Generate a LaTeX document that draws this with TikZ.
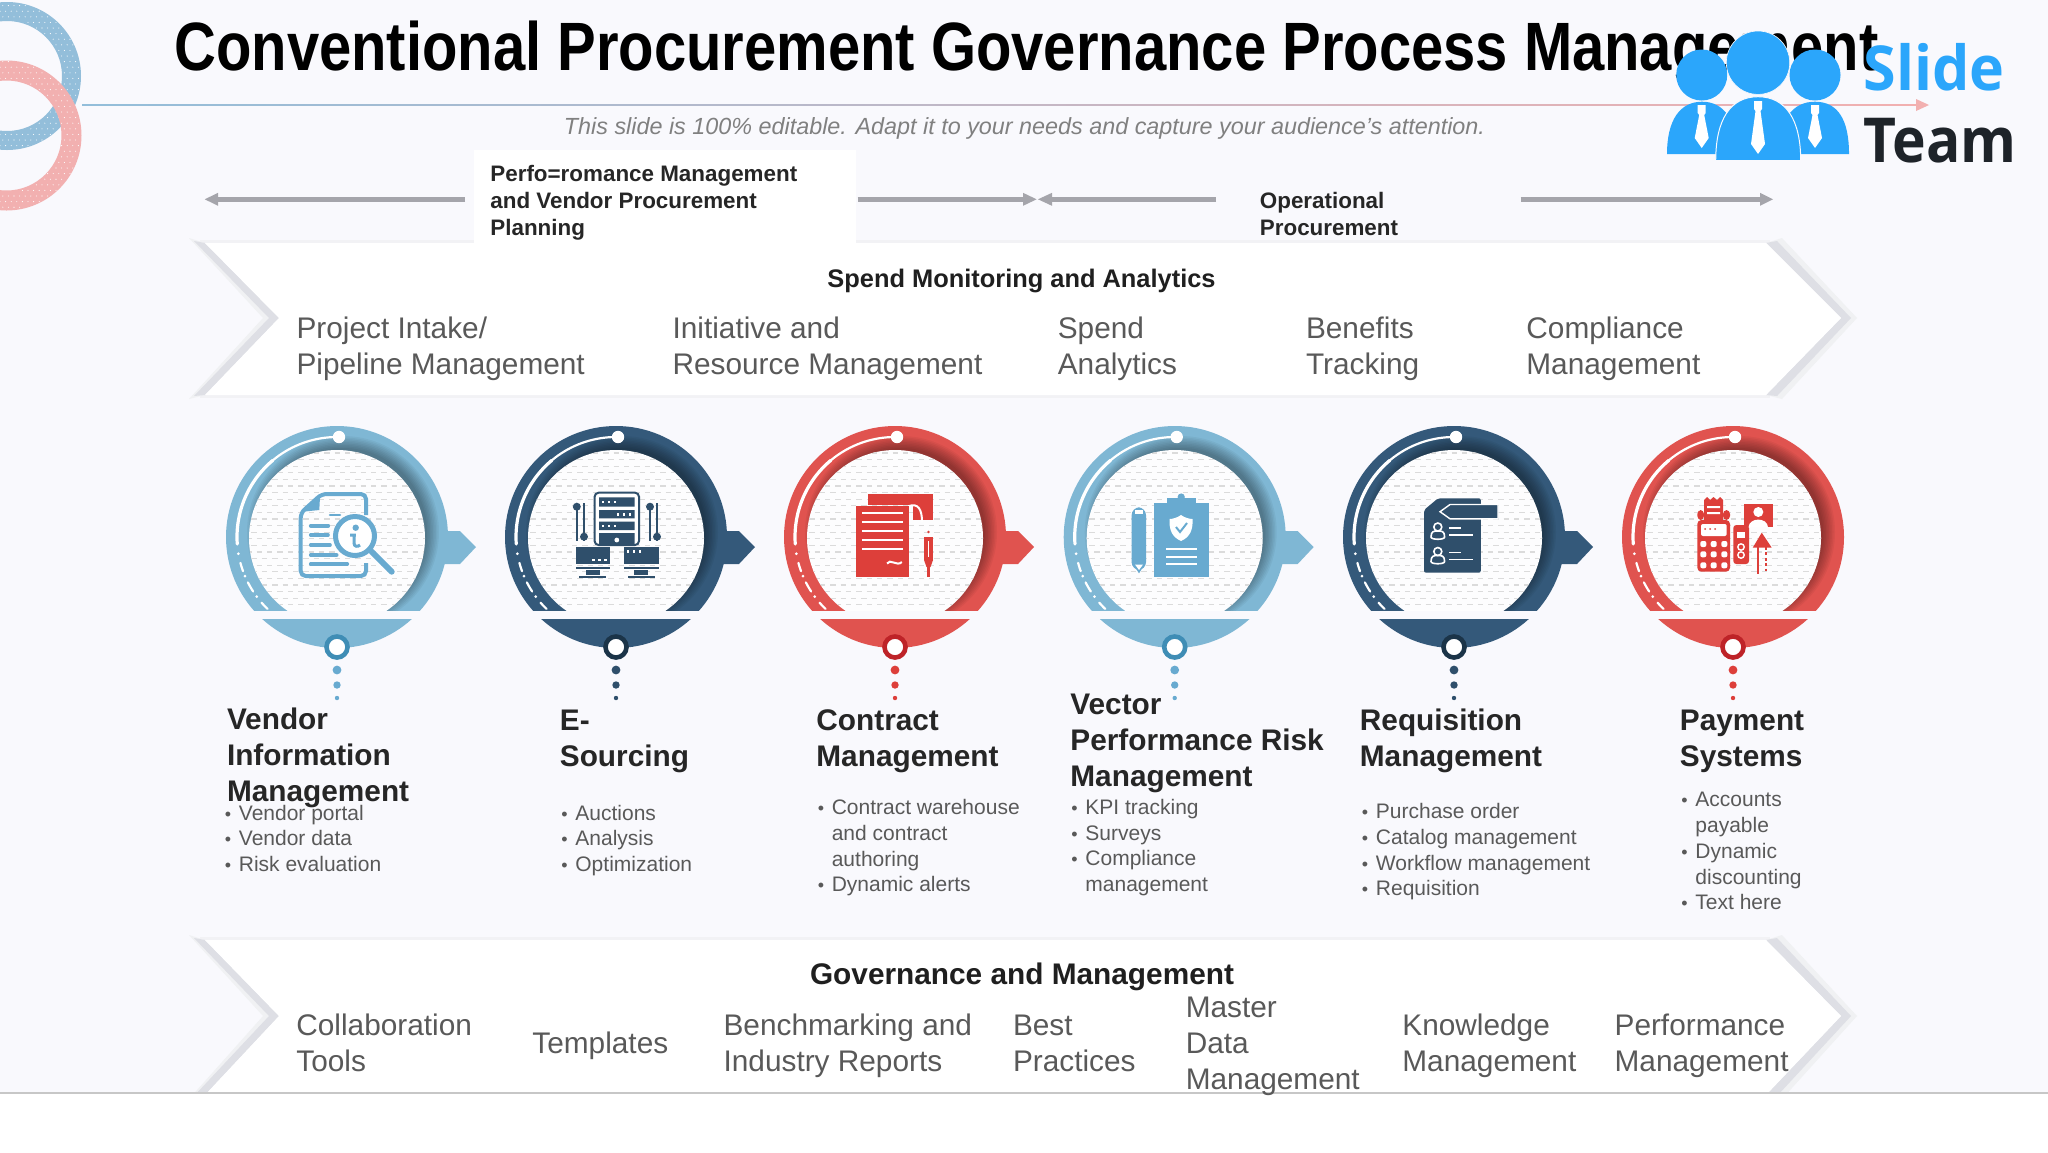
\documentclass[tikz,border=0pt]{standalone}
\usepackage{fontspec}
\usepackage{graphicx}
\setmainfont{Liberation Sans}
\newfontfamily\logofont{Open Sans}[BoldFont={* Bold}]
\definecolor{pagebg}{HTML}{F9F9FD}
\definecolor{rlight}{HTML}{7FB7D4}
\definecolor{rdark}{HTML}{34597A}
\definecolor{rred}{HTML}{E0534F}
\definecolor{elight}{HTML}{3F8DB5}
\definecolor{edark}{HTML}{1B3448}
\definecolor{ered}{HTML}{BE2328}
\definecolor{dlight}{HTML}{68AAD0}
\definecolor{ddark}{HTML}{2F4F6B}
\definecolor{dred}{HTML}{DD3F3A}
\definecolor{logoblue}{HTML}{2BA6FB}
\definecolor{logodark}{HTML}{1E2329}
\definecolor{greyarrow}{HTML}{A5A5AB}
\definecolor{chevshadow}{HTML}{DEDFE5}
\definecolor{headtxt}{HTML}{262626}
\definecolor{bodytxt}{HTML}{595959}
\definecolor{ringblue}{HTML}{93BEDA}
\definecolor{ringpink}{HTML}{F2B0B0}
\tikzset{
 rowtxt/.style={inner sep=0,anchor=west,align=left,text=bodytxt,yshift=-1.25pt,font=\fontsize{14.9}{18}\selectfont},
 headtext/.style={inner sep=0,anchor=west,align=left,text=headtxt,yshift=-1.1pt,font=\bfseries\fontsize{14.9}{18}\selectfont},
 toptxt/.style={inner sep=0,anchor=west,align=left,text=black!85,yshift=-1.1pt,font=\bfseries\fontsize{11.2}{13.5}\selectfont},
 bullettxt/.style={inner sep=0,anchor=west,align=left,text=bodytxt,yshift=-.85pt,font=\fontsize{10.5}{12.85}\selectfont},
 greyline/.style={draw=greyarrow,line width=2.2pt},
 greytip/.style={fill=greyarrow,draw=none}
}
\newcommand\ringarc[4]{\draw[white,line width=#4pt,line cap=round] plot[domain=#2:#3,samples=20,smooth] ({#1+100*cos(\x)},{537-100*sin(\x)});}
\newcommand\ringdot[2]{\fill[white] ({#1+100*cos(#2)},{537-100*sin(#2)}) circle[radius=1.5];}
\newcommand\ringtip[2]{\fill[#2] (#1+95,531) -- (#1+123,531) -- (#1+139,547) -- (#1+123,564) -- (#1+95,564) -- cycle;}
\newcommand\bitem{\strut\makebox[7pt][l]{\small•}}
\newcommand\bcont{\strut\makebox[7pt][l]{}}
\newcommand\cornerdots[4]{%
 \foreach \i in {0,...,16} \foreach \j in {0,...,40}
  {\pgfmathsetmacro{\px}{\i*5.6+mod(\j,2)*2.8}
   \pgfmathsetmacro{\py}{\j*5.6}
   \pgfmathsetmacro{\dd}{veclen(\px-#1,\py-#2)}
   \pgfmathparse{(\dd<#3 && \dd>#4) ? 1 : 0}
   \ifdim\pgfmathresult pt>0.5pt \fill[white] (\px,\py) circle[radius=.55];\fi}}
\newcommand\chevbands[3]{% top y, tip y, bottom y
 \fill[chevshadow!45] (189,#1-5) -- (263,#2) -- (189,#3+4) -- (205,#3) -- (279,#2) -- (205,#1) -- cycle;
 \fill[chevshadow] (194,#1-2) -- (269,#2) -- (194,#3+1) -- (205,#3) -- (279,#2) -- (205,#1) -- cycle;
 \fill[chevshadow!45] (1782,#1-5) -- (1857,#2) -- (1782,#3+4) -- (1766,#3) -- (1841,#2) -- (1766,#1) -- cycle;
 \fill[chevshadow] (1777,#1-2) -- (1851,#2) -- (1777,#3+1) -- (1766,#3) -- (1841,#2) -- (1766,#1) -- cycle;
}
\newcommand\ringunit[4]{%
 \begin{scope}
  \clip (#1-130,400) rectangle (#1+130,610);
  \fill[#2] (#1,537) circle[radius=111];
  \foreach \rr in {84,85.5,...,96} {\fill[black,opacity=.042] (#1+6,532) circle[radius=\rr];}
  \ringarc{#1}{88}{130}{1.1}
  \ringarc{#1}{130}{184}{1.6}
  \ringdot{#1}{189.6}
  \ringarc{#1}{195}{200}{1.1}
  \ringdot{#1}{203}
  \ringarc{#1}{207}{213}{1.1}
  \ringdot{#1}{216.6}
  \ringarc{#1}{221}{226}{1.1}
  \fill[white] (#1+2,437) circle[radius=6.2];
  \begin{scope}
   \clip (#1,538) circle[radius=88];
   \fill[white!60!pagebg] (#1-90,445) rectangle (#1+90,630);
   \foreach \k in {0,...,24}
     {\pgfmathsetmacro{\yy}{453+\k*6.6}
      \pgfmathsetmacro{\xs}{#1-96-mod(\k,2)*5.2}
      \draw[black!14,line width=.55pt,dash pattern=on 2.7pt off 2.5pt] (\xs,\yy) -- (#1+96,\yy);}
  \end{scope}
 \end{scope}
 \begin{scope}
  \clip (#1-130,619) rectangle (#1+130,700);
  \fill[#2] (#1,537) circle[radius=111];
 \end{scope}
 \draw[#3,fill=white,line width=2.3pt] (#1,647) circle[radius=10.5];
 \fill[#4] (#1,670) circle[radius=4.4] (#1,685) circle[radius=3.7] (#1,698) circle[radius=2.2];
}
\begin{document}
\begin{tikzpicture}[x=0.5pt,y=-0.5pt]
\useasboundingbox (0,0) rectangle (2048,1152);
\fill[white] (0,0) rectangle (2048,1152);
\fill[pagebg] (0,0) rectangle (2048,1093);

% corner rings
\fill[ringblue,even odd rule] (7,76) circle[radius=74] (7,76) circle[radius=55];
\cornerdots{7}{76}{73}{56}
\fill[ringpink,even odd rule] (6.5,135.5) circle[radius=75] (6.5,135.5) circle[radius=55];
\cornerdots{6.5}{135.5}{74}{56}

% header rule
\shade[left color=ringblue,right color=ringpink] (82,104.2) rectangle (1918,105.8);
\fill[ringpink] (1916,99) -- (1929,105) -- (1916,111) -- cycle;

% title
\node[inner sep=0,anchor=base west,text=black] (title) at (174,70.7)
 {\resizebox{852pt}{\height}{\fontsize{34.2}{40}\selectfont\bfseries Conventional Procurement Governance Process Management}};
\node[inner sep=0,text=black!50,font=\itshape\fontsize{11.68}{14}\selectfont] (subtitle) at (1024.5,128.5)
 {This slide is 100\% editable. Adapt it to your needs and capture your audience's attention.};

% top arrows
\draw[greyline] (465,199.3) -- (212,199.3);
\fill[greytip] (204.8,199.3) -- (218,192.8) -- (218,205.8) -- cycle;
\draw[greyline] (857.5,199.3) -- (1028,199.3);
\fill[greytip] (1036.6,199.3) -- (1023,192.8) -- (1023,205.8) -- cycle;
\draw[greyline] (1216,199.3) -- (1046,199.3);
\fill[greytip] (1038,199.3) -- (1052,192.8) -- (1052,205.8) -- cycle;
\draw[greyline] (1520.7,199.3) -- (1765,199.3);
\fill[greytip] (1773,199.3) -- (1760,192.8) -- (1760,205.8) -- cycle;

% upper chevron
\fill[chevshadow!40] (200,240) rectangle (1770,243);
\fill[chevshadow!40] (200,395) rectangle (1770,398);
\chevbands{243}{318}{395}
\fill[white] (205,243) -- (1766,243) -- (1841,318) -- (1766,395) -- (205,395) -- (279,318) -- cycle;

\fill[white] (474,150) rectangle (856,243);
\node[toptxt] (plan) at (490,201) {\strut Perfo=romance Management\\\strut and Vendor Procurement\\\strut Planning};
\node[toptxt] (oper) at (1259.5,214.5) {\strut Operational\\\strut Procurement};

\node[inner sep=0,yshift=-1.1pt,text=black!88,font=\bfseries\fontsize{12.7}{15}\selectfont] (spend) at (1021.5,279) {Spend Monitoring and Analytics};
\node[rowtxt] (r1) at (296.2,346.7) {\strut Project Intake/\\\strut Pipeline Management};
\node[rowtxt] (r2) at (672.2,346.7) {\strut Initiative and\\\strut Resource Management};
\node[rowtxt] (r3) at (1057.4,346.7) {\strut Spend\\\strut Analytics};
\node[rowtxt] (r4) at (1305.6,346.7) {\strut Benefits\\\strut Tracking};
\node[rowtxt] (r5) at (1526,346.7) {\strut Compliance\\\strut Management};

% rings
\ringtip{337}{rlight}
\ringunit{337}{rlight}{elight}{dlight}
\ringtip{616}{rdark}
\ringunit{616}{rdark}{edark}{ddark}
\ringtip{895}{rred}
\ringunit{895}{rred}{ered}{dred}
\ringtip{1174.7}{rlight}
\ringunit{1174.7}{rlight}{elight}{dlight}
\ringtip{1454}{rdark}
\ringunit{1454}{rdark}{edark}{ddark}
\ringunit{1733}{rred}{ered}{dred}

% icon 1
\begin{scope}[draw=dlight,fill=dlight]
 \draw[line width=2pt,rounded corners=2.5pt] (366,515) -- (366,494) -- (321.7,494) -- (300.7,513) -- (300.7,576) -- (366,576) -- (366,563);
 \fill (303,511.7) -- (320,496.7) -- (319.3,510) -- cycle;
 \foreach \ya/\xb in {515/340} {\draw[line width=1.3pt,line cap=round] (330,\ya) -- (\xb,\ya);}
 \foreach \ya/\xb in {525.7/328.3,535/328,545/330,555/336.7,564/347.3} {\draw[line width=1.8pt,line cap=round] (310.7,\ya) -- (\xb,\ya);}
 \draw[line width=2.5pt,fill=white] (355,536) circle[radius=19.5];
 \draw[line width=3pt,line cap=round] (371.7,551.7) -- (391.7,571.7);
 \fill (355.7,527.7) circle[radius=3.2];
 \draw[line width=1.5pt] (350,535) -- (354.3,535) -- (354,543) .. controls (354,547) and (358,547) .. (360,545);
\end{scope}

% icon 2
\begin{scope}[draw=ddark,fill=ddark]
 \draw[line width=1pt,rounded corners=2pt,fill=white] (594.6,492.7) rectangle (639,545);
 \fill (599,497.3) rectangle (634.6,506.7) (599,510) rectangle (634.6,518.3) (599,521.7) rectangle (634.6,530) (599,533) rectangle (634.6,544);
 \fill[white] (616.8,540) circle[radius=2.4];
 \foreach \x/\y in {603/502,609/502,615/502,618/514.3,624/514.3,630/514.3,603/526,609/526,615/526}
  {\fill[white] (\x-1.2,\y-1.2) rectangle (\x+1.2,\y+1.2);}
 \foreach \x/\ya/\yb/\yk in {576.8/506.7/540.7/506.7,584/503/540.7/536.7,650/506.7/540.7/506.7,657/503/540.7/536.7}
  {\draw[line width=.8pt] (\x,\ya) -- (\x,\yb); \fill (\x,\yk) circle[radius=4];}
 \foreach \xa/\xb in {575.7/609.6,624/658.6}
  {\fill (\xa,547.3) rectangle (\xb,564);
   \fill (\xa,567) rectangle (\xb,569.3);
   \fill ({(\xa+\xb)/2-7},570) rectangle ({(\xa+\xb)/2+7},575);
   \fill ({(\xa+\xb)/2-13.5},576) rectangle ({(\xa+\xb)/2+13.5},578.3);}
 \foreach \x/\y in {593.6/560,599.3/560,605.4/560,627.9/551.3,634/551.3,640/551.3}
  {\fill[white] (\x-1.3,\y-1.3) rectangle (\x+1.3,\y+1.3);}
\end{scope}

% icon 3
\begin{scope}[fill=dred]
 \fill (867.9,494) rectangle (932.9,505);
 \fill (912.5,505) -- (932.9,505) -- (932.9,520) -- (912.5,520) -- cycle;
 \fill (856,506) rectangle (909,576.7);
 \draw[white,line width=1pt] (909,506) .. controls (918,503) and (922,509) .. (922,522);
 \foreach \y in {513.3,522,531,540,549} {\draw[white,line width=1pt] (861.8,\y) -- (902.9,\y);}
 \draw[white,line width=1pt] (887,563.5) .. controls (890,558) and (897,567) .. (901.8,562);
 \fill (924,536.7) rectangle (933,560);
 \fill (924,560) -- (933,560) -- (930.5,567) -- (926.5,567) -- cycle;
 \fill (927.3,567) rectangle (929.7,576.7);
 \fill (928.5,532) circle[radius=1.4];
 \draw[white,line width=.6pt] (928.5,541) -- (928.5,557);
\end{scope}

% icon 4
\begin{scope}[fill=dlight,draw=dlight]
 \fill (1153.7,503.3) rectangle (1209.4,576.7);
 \fill (1166.7,498) rectangle (1196,503);
 \fill (1181.2,497) circle[radius=3.6];
 \fill[white] (1181,515) .. controls (1177,518) and (1172,519) .. (1169.5,519) .. controls (1169,530) and (1172,537) .. (1181,541) .. controls (1190,537) and (1193,530) .. (1192.6,519) .. controls (1190,519) and (1185,518) .. (1181,515) -- cycle;
 \draw[line width=1pt] (1176,527) -- (1180,532) -- (1187,523);
 \foreach \y in {549.3,556.7,564.3} {\draw[white,line width=1pt] (1166,\y) -- (1197,\y);}
 \fill[rounded corners=4pt] (1131.6,570) -- (1131.6,507.3) -- (1146,507.3) -- (1146,570) -- cycle;
 \fill (1131.6,562) -- (1146,562) -- (1139,573.3) -- cycle;
 \fill[white] (1135,564.5) -- (1143,564.5) -- (1139,570) -- cycle;
 \fill[white] (1135,510) rectangle (1143,514);
\end{scope}

% icon 5
\begin{scope}[fill=ddark,draw=white]
 \fill[rounded corners=1pt] (1438,498.3) -- (1480.8,498.3) -- (1480.8,572.7) -- (1424,572.7) -- (1424,510) -- cycle;
 \filldraw[line width=.7pt] (1440,511.7) -- (1450,504.5) -- (1498,504.5) -- (1498,518.8) -- (1450,518.8) -- cycle;
 \foreach \yh/\yu/\yl in {529/527.7/535,553.5/552.3/559.3}
  {\draw[line width=.8pt] (1437.8,\yh-2) circle[radius=4];
   \draw[line width=.8pt] (1431,\yh+8) .. controls (1431,\yh+2) and (1434,\yh+2) .. (1437.8,\yh+2) .. controls (1441.6,\yh+2) and (1444.6,\yh+2) .. (1444.6,\yh+8) .. controls (1444.6,\yh+11) and (1431,\yh+11) .. (1431,\yh+8) -- cycle;
   \draw[line width=.8pt] (1449,\yu) -- (1461,\yu);
   \draw[line width=.8pt] (1449,\yl) -- (1472.5,\yl);}
\end{scope}

% icon 6
\begin{scope}[fill=dred,draw=dred]
 \fill (1704,500) -- (1707,497) -- (1710,500) -- (1713.5,497) -- (1717,500) -- (1720,497) -- (1723,500) -- (1723,520) -- (1704,520) -- cycle;
 \fill[white] (1707,506) rectangle (1720,508) (1707,512) rectangle (1720,514);
 \fill[rounded corners=2pt] (1697.3,510) rectangle (1704,520) (1723,510) rectangle (1730,520);
 \fill[rounded corners=2pt] (1697.3,520) rectangle (1730,571.7);
 \fill[white,rounded corners=1pt] (1701,524) rectangle (1726.7,536);
 \foreach \x in {1705,1710,1715} {\fill (\x,529) circle[radius=1];}
 \foreach \x in {1703.3,1713.7,1724.3} \foreach \y in {544,554.3,565.3}
  {\fill[white,rounded corners=1pt] (\x-3,\y-3) rectangle (\x+3,\y+3);}
 \fill[rounded corners=1.5pt] (1733.3,525) rectangle (1749,564);
 \fill[white] (1737,532) rectangle (1745,538);
 \draw[white,line width=.7pt] (1741,547) circle[radius=3.2] (1741,555) circle[radius=3.2];
 \fill (1744,504) rectangle (1772.7,527.3);
 \fill[white] (1758.3,512) circle[radius=5];
 \fill[white] (1748.5,527.3) .. controls (1749,517) and (1767.5,517) .. (1768,527.3) -- cycle;
 \fill (1761.7,532.7) -- (1771.7,547.7) -- (1752.7,547.7) -- cycle;
 \draw[line width=1.1pt] (1757.7,547) -- (1757.7,574);
 \draw[line width=1.1pt,dash pattern=on 1.5pt off 1.2pt] (1765.7,547) -- (1765.7,571);
\end{scope}

% card text
\node[headtext] (h1) at (226.6,756) {\strut Vendor\\\strut Information\\\strut Management};
\node[bullettxt] (b1) at (224.5,839) {\bitem Vendor portal\\\bitem Vendor data\\\bitem Risk evaluation};
\node[headtext] (h2) at (559.5,739) {\strut E-\\\strut Sourcing};
\node[bullettxt] (b2) at (561,839) {\bitem Auctions\\\bitem Analysis\\\bitem Optimization};
\node[headtext] (h3) at (816,739) {\strut Contract\\\strut Management};
\node[bullettxt] (b3) at (817.4,846.5) {\bitem Contract warehouse\\\bcont and contract\\\bcont authoring\\\bitem Dynamic alerts};
\node[headtext] (h4) at (1070,741) {\strut Vector\\\strut Performance Risk\\\strut Management};
\node[bullettxt] (b4) at (1071,846) {\bitem KPI tracking\\\bitem Surveys\\\bitem Compliance\\\bcont management};
\node[headtext] (h5) at (1359.5,739) {\strut Requisition\\\strut Management};
\node[bullettxt] (b5) at (1361.5,850.5) {\bitem Purchase order\\\bitem Catalog management\\\bitem Workflow management\\\bitem Requisition};
\node[headtext] (h6) at (1679.5,739) {\strut Payment\\\strut Systems};
\node[bullettxt] (b6) at (1681,851.5) {\bitem Accounts\\\bcont payable\\\bitem Dynamic\\\bcont discounting\\\bitem Text here};

% lower chevron and page edge
\begin{scope}
 \clip (0,930) rectangle (2048,1092.5);
 \fill[chevshadow!40] (200,937) rectangle (1770,940);
 \chevbands{940}{1016}{1095}
 \fill[white] (205,940) -- (1766,940) -- (1841,1016) -- (1766,1095) -- (205,1095) -- (279,1016) -- cycle;
\end{scope}
\draw[black!22,line width=.6pt] (0,1093) -- (2048,1093);
\node[inner sep=0,yshift=-1.25pt,text=black!88,font=\bfseries\fontsize{14.9}{18}\selectfont] (gov) at (1022,974) {Governance and Management};
\node[rowtxt] (g1) at (296,1044) {\strut Collaboration\\\strut Tools};
\node[rowtxt] (g2) at (532,1044) {\strut Templates};
\node[rowtxt] (g3) at (723.2,1044) {\strut Benchmarking and\\\strut Industry Reports};
\node[rowtxt] (g4) at (1012.6,1044) {\strut Best\\\strut Practices};
\node[rowtxt] (g5) at (1185.4,1044) {\strut Master\\\strut Data\\\strut Management};
\node[rowtxt] (g6) at (1402,1044) {\strut Knowledge\\\strut Management};
\node[rowtxt] (g7) at (1614.2,1044) {\strut Performance\\\strut Management};

% logo
\begin{scope}[fill=logoblue]
 \fill (1667,154) .. controls (1667,120) and (1680,101.7) .. (1702,101.7) .. controls (1724,101.7) and (1737,120) .. (1737,154) -- cycle;
 \fill (1779,154) .. controls (1779,120) and (1792,101.7) .. (1815,101.7) .. controls (1838,101.7) and (1849,120) .. (1849,154) -- cycle;
 \fill[draw=pagebg,line width=.5pt] (1715.7,160.7) .. controls (1715.7,120) and (1730,96.7) .. (1758,96.7) .. controls (1786,96.7) and (1800.7,120) .. (1800.7,160.7) -- cycle;
 \fill (1701.7,75) circle[radius=25.5];
 \fill (1815,75) circle[radius=25.5];
 \fill[draw=pagebg,line width=.3pt] (1758,62.7) circle[radius=31.7];
 \foreach \x/\t/\b in {1701.7/105/148,1758/101/154,1815/105/148}
  {\fill[white] (\x-4,\t) -- (\x+4,\t) -- (\x+4,\t+8) -- (\x+2.5,\t+10) -- (\x+7,\b-10) -- (\x,\b) -- (\x-7,\b-10) -- (\x-2.5,\t+10) -- (\x-4,\t+8) -- cycle;}
\end{scope}
\node[inner sep=0,anchor=base west,text=logoblue] (slide) at (1863,90.5)
 {\resizebox{70.5pt}{\height}{\logofont\bfseries\fontsize{31}{36}\selectfont Slide}};
\node[inner sep=0,anchor=base west,text=logodark] (team) at (1863,162.5)
 {\resizebox{76.5pt}{\height}{\logofont\bfseries\fontsize{31}{36}\selectfont Team}};
\end{tikzpicture}
\end{document}
